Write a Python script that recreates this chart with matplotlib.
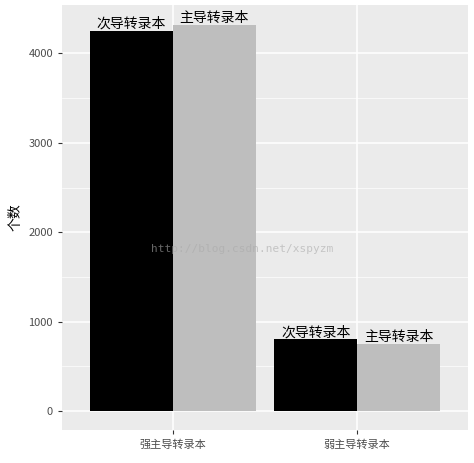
import matplotlib
matplotlib.use("Agg")
import matplotlib.pyplot as plt
import numpy as np

plt.rcParams['font.family'] = ['Noto Sans CJK SC', 'DejaVu Sans']

groups = ['强主导转录本', '弱主导转录本']
series = ['次导转录本', '主导转录本']
values = {'次导转录本': [4250, 805], '主导转录本': [4320, 750]}
colors = {'次导转录本': '#000000', '主导转录本': '#bebebe'}

fig = plt.figure(figsize=(4.74, 4.63), dpi=100)
ax = fig.add_axes([62/474, 33/463, 406/474, 425/463])
ax.set_facecolor('#ebebeb')
x = np.arange(1, len(groups) + 1)
w = 0.45
for i, s in enumerate(series):
    pos = x + (i - 0.5) * w
    ax.bar(pos, values[s], width=w, color=colors[s], zorder=3)
    for p, v in zip(pos, values[s]):
        ax.text(p, v, s, ha='center', va='bottom', fontsize=10, zorder=4)
ax.set_xlim(0.4, 2.6)
ax.set_ylim(-210, 4540)
ax.set_xticks(x)
ax.set_xticklabels(groups, fontsize=8, color='#4d4d4d')
ax.set_yticks([0, 1000, 2000, 3000, 4000])
ax.tick_params(axis='y', labelsize=8, labelcolor='#4d4d4d', color='#333333', length=3)
ax.tick_params(axis='x', color='#333333', length=3)
ax.set_yticks([500, 1500, 2500, 3500], minor=True)
ax.tick_params(which='minor', length=0)
ax.grid(True, which='major', color='white', linewidth=1.1, zorder=0)
ax.grid(True, which='minor', color='white', linewidth=0.5, zorder=0)
for sp in ax.spines.values():
    sp.set_visible(False)
ax.set_ylabel('个数', fontsize=10)
ax.text(0.22, 0.42, 'http://blog.csdn.net/xspyzm', transform=ax.transAxes,
        fontsize=8, color='#aaaaaa', alpha=0.6, family='DejaVu Sans Mono', zorder=5)
fig.savefig('out.png', dpi=100)
